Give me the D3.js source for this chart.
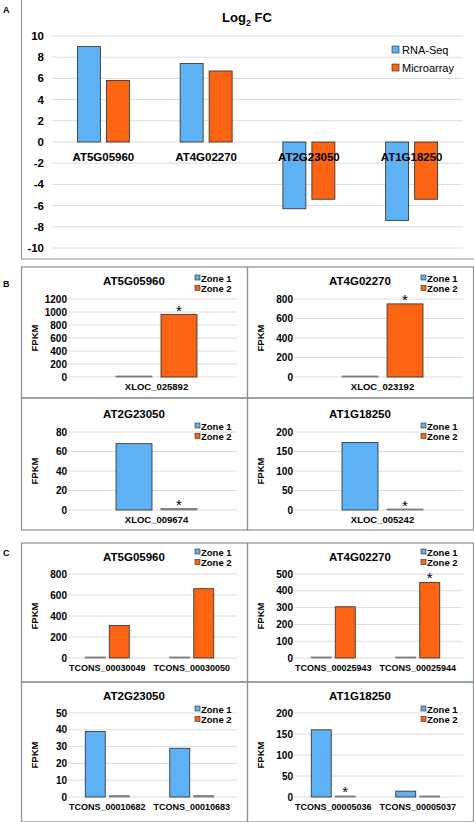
<!DOCTYPE html>
<html><head><meta charset="utf-8">
<script src="https://cdn.jsdelivr.net/npm/d3@7"></script>
<style>body{margin:0;background:#fff}text{font-family:"Liberation Sans",Arial,sans-serif}</style>
</head><body>
<script>
// Panel A data
var genes = ['AT5G05960', 'AT4G02270', 'AT2G23050', 'AT1G18250'];
var rnaSeq = [9.0, 7.4, -6.3, -7.4];
var microarray = [5.8, 6.7, -5.4, -5.4];
var aTicks = [10, 8, 6, 4, 2, 0, -2, -4, -6, -8, -10];

// Panel B data (XLOC)
var bTitles = ['AT5G05960', 'AT4G02270', 'AT2G23050', 'AT1G18250'];
var bCats = [['XLOC_025892'], ['XLOC_023192'], ['XLOC_009674'], ['XLOC_005242']];
var bZone1 = [[2], [8], [68], [173]];
var bZone2 = [[960], [750], [1.5], [1]];
var bMax = [1200, 800, 80, 200];
var bStep = [200, 200, 20, 50];
var bStar = [[2], [2], [2], [2]];   // 2 = star over zone 2

// Panel C data (TCONS)
var cTitles = ['AT5G05960', 'AT4G02270', 'AT2G23050', 'AT1G18250'];
var cCats = [['TCONS_00030049', 'TCONS_00030050'], ['TCONS_00025943', 'TCONS_00025944'],
             ['TCONS_00010682', 'TCONS_00010683'], ['TCONS_00005036', 'TCONS_00005037']];
var cZone1 = [[1, 1], [2, 6], [39, 29], [160, 14]];
var cZone2 = [[310, 660], [305, 450], [0.8, 0.8], [2, 0.5]];
var cMax = [800, 500, 50, 200];
var cStep = [200, 100, 10, 50];
var cStar = [[0, 0], [0, 2], [0, 0], [2, 0]];

var BLUE = '#5db1f4', ORANGE = '#fb6413', EDGE = '#2a2a2a', GRID = '#dcdcdc', BOX = '#8a8f8f';

var svg = d3.select('body').append('svg').attr('width', 474).attr('height', 822);

// ---------- Panel A ----------
svg.append('rect').attr('x', 21.5).attr('y', -1).attr('width', 460).attr('height', 260)
  .attr('fill', 'none').attr('stroke', BOX);
svg.append('text').attr('x', 3).attr('y', 13).attr('font-size', 9).attr('font-weight', 'bold').text('A');

var ay = d3.scaleLinear().domain([-10, 10]).range([248, 36]);
var ax = d3.scaleBand().domain(genes).range([52, 463]);
svg.selectAll('.agrid').data(aTicks).join('line')
  .attr('x1', 52).attr('x2', 463).attr('y1', d => ay(d)).attr('y2', d => ay(d))
  .attr('stroke', GRID);
svg.selectAll('.atick').data(aTicks).join('text')
  .attr('x', 44).attr('y', d => ay(d) + 4).attr('text-anchor', 'end')
  .attr('font-size', 11.5).attr('font-weight', 'bold').text(d => d);

var t = svg.append('text').attr('x', 247).attr('y', 22).attr('text-anchor', 'middle')
  .attr('font-size', 13).attr('font-weight', 'bold');
t.append('tspan').text('Log');
t.append('tspan').attr('font-size', 9).attr('dy', 4).text('2');
t.append('tspan').attr('dy', -4).text(' FC');

genes.forEach(function(g, i) {
  var c = ax(g) + ax.bandwidth() / 2;
  [[rnaSeq[i], BLUE, c - 26], [microarray[i], ORANGE, c + 3]].forEach(function(b) {
    svg.append('rect').attr('x', b[2]).attr('width', 23)
      .attr('y', Math.min(ay(b[0]), ay(0))).attr('height', Math.abs(ay(b[0]) - ay(0)))
      .attr('fill', b[1]).attr('stroke', EDGE).attr('stroke-width', 0.8);
  });
});
genes.forEach(function(g) {
  svg.append('text').attr('x', ax(g) + ax.bandwidth() / 2).attr('y', ay(0) + 19)
    .attr('text-anchor', 'middle').attr('font-size', 11.5).attr('font-weight', 'bold').text(g);
});
[['RNA-Seq', BLUE], ['Microarray', ORANGE]].forEach(function(l, i) {
  var y = 50 + i * 18;
  svg.append('rect').attr('x', 392).attr('y', y - 4).attr('width', 7).attr('height', 7)
    .attr('fill', l[1]).attr('stroke', EDGE).attr('stroke-width', 0.6);
  svg.append('text').attr('x', 402).attr('y', y + 4).attr('font-size', 11).text(l[0]);
});

// ---------- small panels ----------
function smallPanel(x0, boxTop, boxH, top, bottom, titleY, legY, title, cats, z1, z2, max, step, stars, wide) {
  var g = svg.append('g').attr('transform', 'translate(' + x0 + ',0)');
  g.append('rect').attr('x', 0.5).attr('y', boxTop).attr('width', 226).attr('height', boxH)
    .attr('fill', 'none').attr('stroke', BOX).attr('stroke-width', 1.2);
  var y = d3.scaleLinear().domain([0, max]).range([bottom, top]);
  var x = d3.scaleBand().domain(cats).range([47, 216]);
  var ticks = d3.range(0, max + step / 2, step);
  g.selectAll('.gl').data(ticks).join('line').attr('x1', 47).attr('x2', 216)
    .attr('y1', d => y(d)).attr('y2', d => y(d)).attr('stroke', GRID);
  g.selectAll('.tl').data(ticks).join('text').attr('x', 46).attr('y', d => y(d) + 3.5)
    .attr('text-anchor', 'end').attr('font-size', 10).attr('font-weight', 'bold').text(d => d);
  g.append('text').attr('transform', 'translate(17,' + (top + bottom) / 2 + ') rotate(-90)')
    .attr('text-anchor', 'middle').attr('font-size', 9.5).attr('font-weight', 'bold').text('FPKM');
  g.append('text').attr('x', 113).attr('y', titleY).attr('text-anchor', 'middle')
    .attr('font-size', 11.5).attr('font-weight', 'bold').text(title);
  var bw = wide ? 36 : 20, gap = wide ? 9 : 4;
  cats.forEach(function(c, i) {
    var cx = x(c) + x.bandwidth() / 2 + (wide ? 4 : -3);
    [[z1[i], BLUE, cx - gap / 2 - bw], [z2[i], ORANGE, cx + gap / 2]].forEach(function(b, k) {
      var h = bottom - y(b[0]);
      var small = h < 2;
      g.append('rect').attr('x', b[2]).attr('width', bw).attr('y', bottom - Math.max(h, 1))
        .attr('height', Math.max(h, 1))
        .attr('fill', small ? '#888' : b[1]).attr('stroke', small ? '#777' : EDGE).attr('stroke-width', 0.8);
      if (stars[i] === k + 1) {
        g.append('text').attr('x', b[2] + bw / 2).attr('y', y(b[0]) + 1).attr('text-anchor', 'middle')
          .attr('font-size', 15).text('*');
      }
    });
    g.append('text').attr('x', cx).attr('y', bottom + 13).attr('text-anchor', 'middle')
      .attr('font-size', wide ? 9.5 : 9).attr('font-weight', 'bold').text(c);
  });
  [['Zone 1', BLUE], ['Zone 2', ORANGE]].forEach(function(l, i) {
    var ly = legY + i * 10.5;
    g.append('rect').attr('x', 174).attr('y', ly - 3).attr('width', 5).attr('height', 5)
      .attr('fill', l[1]).attr('stroke', EDGE).attr('stroke-width', 0.6);
    g.append('text').attr('x', 180).attr('y', ly + 3.5).attr('font-size', 9.5).attr('font-weight', 'bold').text(l[0]);
  });
}

svg.append('text').attr('x', 3).attr('y', 287).attr('font-size', 9).attr('font-weight', 'bold').text('B');
var bRows = [[267, 131, 299, 377, 285, 278], [398, 132, 432, 510, 418, 426]];
var cRows = [[543, 139, 574, 658, 561, 552], [682, 140, 713, 797, 700, 709]];
for (var i = 0; i < 4; i++) {
  var r = bRows[Math.floor(i / 2)], x0 = i % 2 ? 247 : 21;
  smallPanel(x0, r[0], r[1], r[2], r[3], r[4], r[5], bTitles[i], bCats[i], bZone1[i], bZone2[i], bMax[i], bStep[i], bStar[i], true);
}
svg.append('text').attr('x', 3).attr('y', 556).attr('font-size', 9).attr('font-weight', 'bold').text('C');
for (var j = 0; j < 4; j++) {
  var rc = cRows[Math.floor(j / 2)], xc = j % 2 ? 247 : 21;
  smallPanel(xc, rc[0], rc[1], rc[2], rc[3], rc[4], rc[5], cTitles[j], cCats[j], cZone1[j], cZone2[j], cMax[j], cStep[j], cStar[j], false);
}
</script>
</body></html>
